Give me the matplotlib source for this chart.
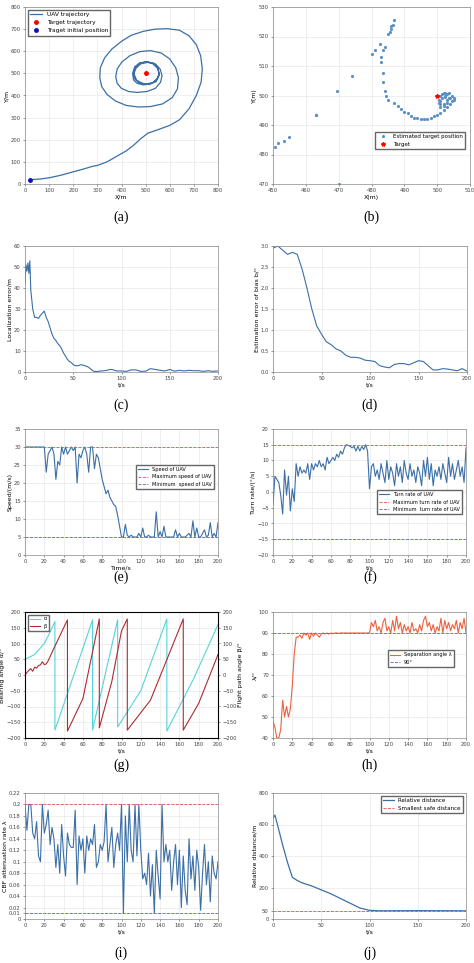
import numpy as np
import matplotlib
matplotlib.use("Agg")
import matplotlib.pyplot as plt

BLUE = "#3b6fa6"
# (a) trajectory
traj_x = [20,60,100,150,200,250,280,300,340,380,420,450,480,510,550,600,640,680,710,730,735,728,710,680,640,590,540,490,440,400,360,330,312,310,318,340,375,420,470,520,570,610,632,636,625,600,565,520,475,435,402,382,376,382,400,430,465,505,540,562,568,560,540,510,478,455,446,450,465,490,520,545,556,552,535,508,480,460,451,455,472,500,530,550,556,548,528,500,472,455,452,462,485,515,543,555]
traj_y = [20,22,28,40,55,70,80,84,100,125,150,175,205,230,245,265,290,340,400,460,520,580,630,670,695,702,700,690,672,645,610,570,525,480,440,405,375,355,348,350,362,390,430,480,525,565,592,603,598,580,552,520,485,455,432,418,414,418,432,460,490,520,543,552,548,530,500,470,455,448,452,470,495,525,545,550,543,523,498,475,458,452,458,478,500,525,545,552,545,525,498,470,455,452,462,490]
# (b) estimated positions
est_x = [450.5,451.5,453.5,455,463,463.2,470,469.5,474,480,481,482.5,483,483,483.5,484,483.5,483.5,484,484.5,485,485,485.5,486,486.5,487,486,487,488,489,490,491,492,493,494,495,496,497,498,499,500,501,502,503,504,504.5,505,505,504.5,503.5,502.5,501.5,500.5,500.5,501,502,503,503.5,503,502,501,501,502,503,502.5,501.5,500.5,501,502.5,504]
est_y = [482.5,484,484.5,486,493.5,493.3,470,501.5,506.5,514,515.5,517.5,513,511.5,515.5,516.5,507.5,504.5,501.5,500,498.5,521,521.5,522.5,524,525.5,523.5,497.5,496.5,495.5,494.5,494,493,492.5,492.5,492,492,492,492.5,493,493.5,494,495,496,497,498,498.5,499,500,501,501,500.5,500,498.5,497,496.5,497.5,499,500.5,501,500,498,497,498.5,500,499,497.5,496,499.5,499]
# (c) localization error
t_c = [0,1,2,3,4,5,6,8,10,12,14,16,18,20,22,24,26,28,30,32,34,36,38,40,42,44,46,48,50,52,55,58,60,62,65,68,70,72,75,78,80,85,88,90,95,100,105,110,115,120,125,130,135,140,145,150,155,160,165,170,175,180,185,190,195,200]
err_c = [42,51,48,52,47,53,39,30,26,26,25.5,27,28,29,26,24,21,18,16,15,13.5,12.5,11,9,7.5,6,5,4.5,3.5,3,3,3.5,3.3,3,2.5,1.5,0.6,0.3,0.2,0.5,0.5,0.8,1.2,1.2,0.5,0.5,0.3,1,1,0.3,0.4,1.6,1.2,0.8,0.5,1.2,0.4,0.8,0.5,0.8,0.6,0.6,0.3,0.6,0.3,0.5]
# (d) bias error, every 5 s
bias_d = [2.95,3.0,2.9,2.8,2.85,2.8,2.45,2.0,1.5,1.1,0.9,0.72,0.65,0.55,0.5,0.4,0.35,0.35,0.33,0.28,0.27,0.25,0.15,0.12,0.1,0.18,0.2,0.2,0.17,0.22,0.27,0.25,0.15,0.05,0.05,0.08,0.07,0.05,0.03,0.08,0.02]
# (e) speed every 2 s
speed_e = [30]*11 + [23,28,29,30,28,21,26,25,30,28,30,28,29,30,29,30,20,28,27,29,30,28,23,30,30,24,28,27,24,21,19,17,18,16,15,14,13.5,11,8,5,5,8.5,5.5,5,5.5,5,5,5,6,5,7.5,5,5,5.5,5,5,5,12,5,6.5,5,8,5,5,5,5,5,7,5,6,5,5,5,5.5,6,5,9.5,5,7.5,5,5,6,7,5,5.5,9,5,6,5,9]
# (f) turn rate every 2 s
turn_f = [-4,5,4,3,-1,-7,7,-1,5,-6,1,-3,9,5,8,6,7,6,9,4,9,7,9,8,10,8,9,7,11,9,10,11,10,12,11,13,12,14,15,14.8,14.5,14,14.5,13,14.5,13,14.5,13.5,15,13,1,8,9,5,7,4,9,6,3,10,4,8,6,2,9,5,8,3,10,6,4,9,5,7,3,8,6,2,10,5,11,4,9,2,7,5,8,4,9,6,3,11,5,9,4,7,10,5,8,3,14]
# (g) angles
alpha_t = [0,10,20,25,31,31.01,50,70,70.01,96,96.01,120,147,147.01,175,200]
alpha_v = [50,65,100,130,170,-175,-5,175,-175,175,-165,-50,178,-178,-10,160]
beta_t = [0,2,4,6,8,10,12,14,16,18,20,22,24,30,44,44.01,60,77,77.01,90,100,106,106.01,130,164,164.01,180,200]
beta_v = [0,8,15,20,12,25,22,30,32,42,33,35,45,85,175,-178,-75,178,-168,-20,140,178,-175,-80,178,-175,-90,65]
# (h) separation angle every 2 s
sep_h = [48,45,40,40,44,58,50,55,50,54,65,80,88,88,89,87.5,90,89,90,87,90,88.5,90,89,88,89.5,90,89.5,90,89.5,90,89.7,90,90,89.8,90,90,90,90,90,90,90,90,90,90,90,90,90,90,90,90,95,93,96,91,93,90,95,97,91,93,90,96,91,98,92,95,90,94,91,93,90,95,91,92,90,94,91,96,98,93,95,91,94,90,93,91,97,90,96,92,95,91,94,92,96,90,95,92,97,90]
# (i) CBF rate every 2 s
cbf_i = [0.2,0.155,0.2,0.2,0.15,0.14,0.17,0.11,0.1,0.2,0.15,0.165,0.19,0.13,0.16,0.14,0.09,0.13,0.08,0.165,0.11,0.075,0.15,0.13,0.125,0.125,0.19,0.06,0.145,0.12,0.14,0.08,0.145,0.12,0.14,0.13,0.165,0.09,0.1,0.13,0.12,0.135,0.2,0.1,0.13,0.16,0.09,0.13,0.15,0.12,0.2,0.01,0.18,0.1,0.2,0.12,0.1,0.2,0.11,0.2,0.12,0.07,0.08,0.06,0.115,0.04,0.095,0.01,0.12,0.075,0.035,0.2,0.1,0.13,0.1,0.12,0.05,0.1,0.13,0.06,0.12,0.02,0.11,0.05,0.025,0.14,0.07,0.11,0.05,0.12,0.09,0.015,0.08,0.13,0.06,0.1,0.03,0.11,0.08,0.07,0.1]
# (j) relative distance
t_j = [0,2,5,10,15,20,25,30,40,50,60,70,80,90,100,110,150,200]
dist_j = [640,660,590,470,360,265,245,230,210,185,160,130,100,70,55,52,53,52]

W, H = 474, 963
fig = plt.figure(figsize=(W/100, H/100), dpi=100)
plt.rcParams['font.size'] = 4

def ax_at(x0, x1, y0, y1):
    a = fig.add_axes([x0/W, 1-y1/H, (x1-x0)/W, (y1-y0)/H])
    a.grid(True, color="#e3e3e3", lw=0.4)
    a.set_axisbelow(True)
    a.tick_params(labelsize=3.8, length=1.5, width=0.4, pad=1.5, colors="#444444")
    for s in a.spines.values():
        s.set_linewidth(0.5); s.set_color("#888888")
    return a

def label(x, y, s):
    fig.text(x/W, 1-y/H, s, ha="center", va="center", fontsize=10, family="Liberation Serif")

def lbl(a, xl, yl):
    a.set_xlabel(xl, fontsize=4.5, labelpad=1)
    a.set_ylabel(yl, fontsize=4.5, labelpad=1)

# (a)
a = ax_at(25, 218, 7, 184)
a.plot(traj_x, traj_y, color=BLUE, lw=0.9, label="UAV trajectory")
a.plot([500], [500], 'o', color="red", ms=2.5, label="Target trajectory")
a.plot([20], [20], 'o', color="#1010c0", ms=2.5, label="Traget initial position")
a.set_xlim(0, 800); a.set_ylim(0, 800)
a.set_xticks(range(0, 801, 100)); a.set_yticks(range(0, 801, 100))
lbl(a, "X/m", "Y/m")
a.legend(loc="upper left", fontsize=4.2, framealpha=1, edgecolor="#666", fancybox=False)
label(121, 217, "(a)")

# (b)
a = ax_at(273, 470, 7, 184)
a.plot(est_x, est_y, '.', color="#5b8fc7", ms=2.5, label="Estimated target position")
a.plot([500], [500], '*', color="red", ms=3, label="Target")
a.set_xlim(450, 510); a.set_ylim(470, 530)
a.set_xticks(range(450, 511, 10)); a.set_yticks(range(470, 531, 10))
lbl(a, "X(m)", "Y(m)")
a.legend(loc="lower right", bbox_to_anchor=(0.99, 0.18), fontsize=4, framealpha=1, edgecolor="#666", fancybox=False)
label(371, 217, "(b)")

# (c)
a = ax_at(25, 218, 246, 372)
a.plot(t_c, err_c, color=BLUE, lw=0.8)
a.set_xlim(0, 200); a.set_ylim(0, 60)
a.set_xticks(range(0, 201, 50)); a.set_yticks(range(0, 61, 10))
lbl(a, "t/s", "Localization error/m")
label(121, 405, "(c)")

# (d)
a = ax_at(273, 467, 246, 372)
a.plot(np.arange(len(bias_d))*5, bias_d, color=BLUE, lw=0.8)
a.axhline(0, color="#333", ls="--", lw=0.6)
a.set_xlim(0, 200); a.set_ylim(0, 3)
a.set_xticks(range(0, 201, 50)); a.set_yticks(np.arange(0, 3.01, 0.5))
lbl(a, "t/s", "Estimation error of bias b/°")
label(370, 405, "(d)")

# (e)
a = ax_at(25, 218, 429, 555)
a.plot(np.arange(len(speed_e))*2, speed_e, color=BLUE, lw=0.8, label="Speed of UAV")
a.axhline(30, color="#e05050", ls="--", lw=0.6, label="Maximum speed of UAV")
a.axhline(5, color="#6060d0", ls="--", lw=0.6, label="Minimum  speed of UAV")
a.set_xlim(0, 200); a.set_ylim(0, 35)
a.set_xticks(range(0, 201, 20)); a.set_yticks(range(0, 36, 5))
lbl(a, "Time/s", "Speed/(m/s)")
a.legend(loc="center right", bbox_to_anchor=(0.99, 0.62), fontsize=3.6, framealpha=1, edgecolor="#666", fancybox=False)
label(121, 577, "(e)")

# (f)
a = ax_at(273, 466, 429, 555)
a.plot(np.arange(len(turn_f))*2, turn_f, color=BLUE, lw=0.8, label="Turn rate of UAV")
a.axhline(15, color="#e05050", ls="--", lw=0.6, label="Maximum turn rate of UAV")
a.axhline(-15, color="#6060d0", ls="--", lw=0.6, label="Minimum  turn rate of UAV")
a.set_xlim(0, 200); a.set_ylim(-20, 20)
a.set_xticks(range(0, 201, 20)); a.set_yticks(range(-20, 21, 5))
lbl(a, "t/s", "Turn rate/(°/s)")
a.legend(loc="center right", bbox_to_anchor=(0.99, 0.42), fontsize=3.6, framealpha=1, edgecolor="#666", fancybox=False)
label(370, 577, "(f)")

# (g)
a = ax_at(25, 218, 612, 738)
l1, = a.plot(alpha_t, alpha_v, color="#55d3dc", lw=0.8, label="α")
a.set_xlim(0, 200); a.set_ylim(-200, 200)
a.set_xticks(range(0, 201, 20)); a.set_yticks(range(-200, 201, 50))
lbl(a, "t/s", "Bearing angle α/°")
a2 = a.twinx()
l2, = a2.plot(beta_t, beta_v, color="#b02a30", lw=0.8, label="β")
a2.set_ylim(-200, 200); a2.set_yticks(range(-200, 201, 50))
a2.tick_params(labelsize=3.8, length=1.5, width=0.4, pad=1.5, colors="#444444")
a2.set_ylabel("Flight path angle β/°", fontsize=4.5, labelpad=1)
a.legend(handles=[l1, l2], loc="upper left", fontsize=3.6, framealpha=1, edgecolor="#666", fancybox=False)
label(121, 765, "(g)")

# (h)
a = ax_at(273, 466, 612, 738)
a.plot(np.arange(len(sep_h))*2, sep_h, color="#ee6040", lw=0.8, label="Separation angle λ")
a.axhline(90, color="#6060d0", ls="--", lw=0.6, label="90°")
a.set_xlim(0, 200); a.set_ylim(40, 100)
a.set_xticks(range(0, 201, 20)); a.set_yticks(range(40, 101, 10))
lbl(a, "t/s", "λ/°")
a.legend(loc="center right", bbox_to_anchor=(0.95, 0.63), fontsize=3.6, framealpha=1, edgecolor="#666", fancybox=False)
label(370, 765, "(h)")

# (i)
a = ax_at(25, 218, 793, 919)
a.plot(np.arange(len(cbf_i))*2, cbf_i, color=BLUE, lw=0.8)
a.axhline(0.2, color="#e05050", ls="--", lw=0.6)
a.axhline(0.01, color="#6060d0", ls="--", lw=0.6)
a.set_xlim(0, 200); a.set_ylim(0, 0.22)
a.set_xticks(range(0, 201, 20)); a.set_yticks([0, 0.01, 0.02, 0.04, 0.06, 0.08, 0.1, 0.12, 0.14, 0.16, 0.18, 0.2, 0.22])
a.set_yticklabels(["0", "0.01", "0.02", "0.04", "0.06", "0.08", "0.1", "0.12", "0.14", "0.16", "0.18", "0.2", "0.22"])
lbl(a, "t/s", "CBF attenuation rate λ")
label(121, 953, "(i)")

# (j)
a = ax_at(273, 466, 793, 919)
a.plot(t_j, dist_j, color=BLUE, lw=0.9, label="Relative distance")
a.axhline(50, color="#e05050", ls="--", lw=0.6, label="Smallest safe distance")
a.set_xlim(0, 200); a.set_ylim(0, 800)
a.set_xticks(range(0, 201, 50)); a.set_yticks([0, 50, 200, 400, 600, 800])
lbl(a, "t/s", "Relative distance/m")
a.legend(loc="upper right", fontsize=4, framealpha=1, edgecolor="#666", fancybox=False)
label(370, 953, "(j)")

fig.patch.set_facecolor("white")
fig.savefig("out.png", dpi=100)
